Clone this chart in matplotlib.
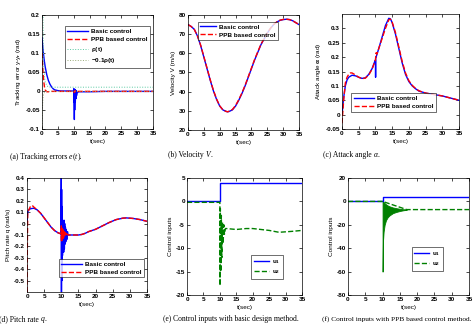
import matplotlib
matplotlib.use("Agg")
import matplotlib.pyplot as plt
import numpy as np

plt.rcParams['font.family'] = ['Liberation Sans Narrow', 'Liberation Sans', 'DejaVu Sans']
plt.rcParams['font.weight'] = 'bold'
plt.rcParams['axes.unicode_minus'] = False
plt.rcParams['mathtext.fontset'] = 'custom'
plt.rcParams['mathtext.rm'] = 'Liberation Sans:bold'
plt.rcParams['mathtext.it'] = 'Liberation Sans:bold'

W, H = 474, 324

# ---------------- data ----------------
# (a) tracking errors
ea_basic_t = [0, 0.25, 0.5, 0.75, 1, 1.5, 2, 2.5, 3, 3.5, 4, 5, 6, 8, 10.0,
              10.05, 10.1, 10.15, 10.2, 10.25, 10.3, 10.4, 10.5, 10.6, 10.7, 10.8, 10.9,
              11.0, 11.2, 11.5, 12, 15, 20, 25, 30, 35]
ea_basic = [0.14, 0.115, 0.095, 0.078, 0.064, 0.043, 0.028, 0.018, 0.011, 0.006, 0.003, 0.001,
            0.0, 0.0, 0.0, 0.006, -0.03, 0.004, -0.075, 0.003, -0.05, 0.004, -0.03, 0.002,
            -0.02, 0.001, -0.012, -0.006, -0.004, -0.002, -0.002, -0.002, -0.001, -0.001,
            -0.001, -0.001]
ea_ppb_t = [0, 0.25, 0.5, 0.75, 1, 1.5, 2, 3, 10, 10.2, 10.4, 10.6, 11, 35]
ea_ppb = [0.1, 0.06, 0.03, 0.012, 0.003, -0.002, -0.002, -0.001, -0.001, -0.004, 0.001,
          -0.003, -0.001, -0.001]
rho_t = [0, 0.1, 0.2, 0.3, 0.4, 0.6, 0.8, 1, 1.5, 2, 3, 35]
rho = [1.0, 0.6, 0.35, 0.2, 0.12, 0.06, 0.035, 0.024, 0.014, 0.011, 0.01, 0.01]
neg_rho = [-0.1, -0.06, -0.035, -0.02, -0.012, -0.006, -0.0035, -0.0024, -0.0014,
           -0.0011, -0.001, -0.001]

# (b) velocity
v_t = [0, 1, 2, 3, 4, 5, 6, 7, 8, 9, 10, 11, 12, 12.5, 13, 14, 15, 16, 17, 18, 19, 20,
       21, 22, 23, 24, 25, 26, 27, 28, 29, 30, 31, 32, 33, 34, 35]
v_basic = [75, 74, 72.5, 69, 64, 58, 52, 46, 40.5, 36, 32.5, 30.5, 29.7, 29.5, 29.7, 30.5,
           32.5, 35.5, 39, 43, 47.5, 52, 56.5, 60.5, 64.5, 67.5, 70.5, 73, 75, 76.3, 77.2,
           77.6, 77.8, 77.6, 77, 76, 75]
v_ppb = [75, 74, 72.4, 69, 64.2, 58.3, 52.3, 46.3, 40.8, 36.2, 32.6, 30.5, 29.7, 29.5, 29.8,
         30.7, 32.8, 35.8, 39.3, 43.3, 47.8, 52.3, 56.8, 60.8, 64.7, 67.7, 70.6, 73.1, 75.1,
         76.4, 77.3, 77.7, 77.8, 77.6, 77, 76, 75]

# (c) attack angle
al_basic_t = [0, 0.5, 1, 1.5, 2, 3, 4, 5, 6, 7, 8, 9, 9.8, 10.0, 10.05, 10.1, 10.2, 11, 12,
              13, 14, 14.5, 15, 16, 17, 18, 19, 20, 21, 22, 23, 25, 30, 35]
al_basic = [0.0, 0.06, 0.1, 0.12, 0.13, 0.137, 0.135, 0.13, 0.126, 0.128, 0.14, 0.16, 0.185,
            0.19, 0.13, 0.2, 0.2, 0.23, 0.27, 0.31, 0.335, 0.333, 0.32, 0.28, 0.23, 0.18,
            0.14, 0.115, 0.1, 0.09, 0.082, 0.075, 0.065, 0.05]
al_ppb_t = [0, 0.25, 0.5, 1, 1.5, 2, 2.5, 3, 4, 5, 6, 7, 8, 9, 10, 10.2, 10.4, 11, 12, 13,
            14, 14.5, 15, 16, 17, 18, 19, 20, 21, 22, 23, 25, 30, 35]
al_ppb = [-0.03, 0.01, 0.05, 0.11, 0.13, 0.14, 0.145, 0.145, 0.138, 0.13, 0.125, 0.127,
          0.138, 0.158, 0.19, 0.215, 0.21, 0.23, 0.265, 0.3, 0.33, 0.332, 0.322, 0.285,
          0.235, 0.185, 0.145, 0.118, 0.102, 0.091, 0.083, 0.075, 0.065, 0.05]

# (d) pitch rate
q_basic_t = [0, 0.2, 0.5, 1, 1.5, 2, 3, 4, 5, 6, 7, 8, 9, 9.9, 10.0, 10.05, 10.1, 10.15,
             10.2, 10.25, 10.3, 10.35, 10.4, 10.5, 10.6, 10.7, 10.8, 10.9, 11.0, 11.1, 11.2,
             11.3, 11.4, 11.6, 11.8, 12, 13, 14, 15, 16, 17, 18, 20, 22, 24, 26, 28, 29, 31,
             33, 35]
q_basic = [0.0, 0.1, 0.12, 0.13, 0.133, 0.135, 0.12, 0.09, 0.05, 0.01, -0.03, -0.06, -0.08,
           -0.09, 0.4, -0.6, 0.3, -0.5, 0.15, -0.35, 0.05, -0.28, -0.02, -0.2, 0.02, -0.25,
           0.03, -0.22, 0.0, -0.18, -0.03, -0.16, -0.05, -0.14, -0.07, -0.1, -0.1, -0.1,
           -0.1, -0.095, -0.085, -0.07, -0.05, -0.02, 0.01, 0.035, 0.048, 0.05, 0.045,
           0.035, 0.02]
q_ppb_t = [0, 0.1, 0.2, 0.5, 1, 1.5, 2, 3, 4, 5, 6, 7, 8, 9, 9.9, 10.0, 10.05, 10.1, 10.15,
           10.2, 10.3, 10.4, 10.5, 10.6, 10.7, 10.8, 11.0, 11.2, 11.4, 11.6, 12, 13, 14, 15,
           16, 17, 18, 20, 22, 24, 26, 28, 29, 31, 33, 35]
q_ppb = [-0.6, -0.2, 0.08, 0.12, 0.15, 0.16, 0.145, 0.12, 0.09, 0.05, 0.01, -0.03, -0.06,
         -0.08, -0.09, -0.02, -0.16, -0.03, -0.15, -0.04, -0.14, -0.05, -0.13, -0.06, -0.12,
         -0.07, -0.11, -0.08, -0.105, -0.09, -0.1, -0.1, -0.1, -0.1, -0.095, -0.085, -0.07,
         -0.05, -0.02, 0.01, 0.035, 0.048, 0.05, 0.045, 0.035, 0.02]

# (e) control inputs, basic design
ue_t1 = [0, 10, 10, 35]
ue_u1 = [0, 0, 4, 4]
ue_t2 = [0, 5, 10.0, 10.05, 10.15, 10.3, 10.45, 10.6, 10.8, 11.0, 11.2, 11.4, 11.7, 12, 15,
         18, 20, 25, 28, 32, 35]
ue_u2 = [-0.2, -0.2, -0.2, -18, -1.5, -15, -3, -12, -4.5, -9, -5, -7, -5.8, -5.8, -6, -5.8,
         -5.8, -6.2, -6.6, -6.4, -6.2]

# (f) control inputs, PPB based control
uf_t1 = [0, 10, 10, 35]
uf_u1 = [0, 0, 4, 4]
uf_t2 = [0, 10, 17, 35]
uf_u2 = [0, 0, -7, -7]
uf_env_t = [10, 10.1, 10.3, 10.6, 11, 11.5, 12, 13, 14, 15, 16, 17]
uf_env_lo = [-60, -35, -26, -20, -16, -13.5, -12, -10, -9, -8.2, -7.6, -7.2]
uf_env_hi = [0, 0, -0.5, -1.5, -2.5, -3.5, -4.2, -5.2, -5.8, -6.3, -6.7, -6.9]

# ---------------- figure ----------------
fig = plt.figure(figsize=(W / 100, H / 100), dpi=100)
FS = 4.6


def make_ax(l, r, t, b):
    ax = fig.add_axes([l / W, 1 - b / H, (r - l) / W, (b - t) / H])
    ax.tick_params(direction='in', length=2, width=0.5, labelsize=FS, pad=1.5,
                   top=True, right=True)
    for s in ax.spines.values():
        s.set_linewidth(0.5)
    ax.set_xlim(0, 35)
    ax.set_xticks(range(0, 36, 5))
    ax.set_xlabel('t(sec)', fontsize=FS, labelpad=2)
    return ax


def leg(ax, hl=3.2, **kw):
    lg = ax.legend(fontsize=FS, frameon=True, fancybox=False, edgecolor='black',
                   borderpad=0.4, labelspacing=0.4, handlelength=hl, handletextpad=0.5,
                   borderaxespad=0.5, **kw)
    lg.get_frame().set_linewidth(0.5)
    return lg


blue = '#0000ff'
red = '#ff0000'
green = '#008000'

# (a)
ax = make_ax(42, 153, 15, 129)
ax.plot(ea_basic_t, ea_basic, color=blue, lw=1.0, label='Basic control')
ax.plot(ea_ppb_t, ea_ppb, color=red, lw=1.0, ls='--', label='PPB based control')
ax.plot(rho_t, rho, color='#55c8a0', lw=0.7, ls=':', label=r'$\rho$(t)')
ax.plot(rho_t, neg_rho, color='#99aa77', lw=0.7, ls=':', label=r'$-0.1\rho$(t)')
ax.set_ylim(-0.1, 0.2)
ax.set_yticks([-0.1, -0.05, 0, 0.05, 0.1, 0.15, 0.2])
ax.set_yticklabels(['-0.1', '-0.05', '0', '0.05', '0.1', '0.15', '0.2'])
ax.set_ylabel(r'Tracking error y-y$_r$ (rad)', fontsize=FS, labelpad=2)
leg(ax, loc='upper right', bbox_to_anchor=(1.0, 0.93))

# (b)
ax = make_ax(188, 299, 15, 130)
ax.plot(v_t, v_basic, color=blue, lw=1.0, label='Basic control')
ax.plot(v_t, v_ppb, color=red, lw=1.0, ls='--', label='PPB based control')
ax.set_ylim(20, 80)
ax.set_yticks(range(20, 81, 10))
ax.set_ylabel('Velocity V (m/s)', fontsize=FS, labelpad=2)
leg(ax, hl=2.4, loc='upper left', bbox_to_anchor=(0.06, 0.97))

# (c)
ax = make_ax(342, 459, 14, 129)
ax.plot(al_basic_t, al_basic, color=blue, lw=1.0, label='Basic control')
ax.plot(al_ppb_t, al_ppb, color=red, lw=1.0, ls='--', label='PPB based control')
ax.set_ylim(-0.05, 0.35)
ax.set_yticks([-0.05, 0, 0.05, 0.1, 0.15, 0.2, 0.25, 0.3])
ax.set_yticklabels(['-0.05', '0', '0.05', '0.1', '0.15', '0.2', '0.25', '0.3'])
ax.set_ylabel(r'Attack angle $\alpha$ (rad)', fontsize=FS, labelpad=2)
leg(ax, loc='lower left', bbox_to_anchor=(0.05, 0.12))

# (d)
ax = make_ax(27, 147, 178, 292)
ax.plot(q_basic_t, q_basic, color=blue, lw=1.0, label='Basic control')
ax.plot(q_ppb_t, q_ppb, color=red, lw=1.0, ls='--', label='PPB based control')
ax.set_ylim(-0.6, 0.4)
ax.set_yticks([-0.5, -0.4, -0.3, -0.2, -0.1, 0, 0.1, 0.2, 0.3, 0.4])
ax.set_yticklabels(['-0.5', '-0.4', '-0.3', '-0.2', '-0.1', '0', '0.1', '0.2', '0.3', '0.4'])
ax.set_ylabel('Pitch rate q (rad/s)', fontsize=FS, labelpad=2)
leg(ax, loc='lower right', bbox_to_anchor=(1.0, 0.1))

# (e)
ax = make_ax(187, 302, 178, 295)
ax.plot(ue_t1, ue_u1, color=blue, lw=1.0, label=r'u$_1$')
ax.plot(ue_t2, ue_u2, color=green, lw=1.0, ls='--', label=r'u$_2$')
ax.set_ylim(-20, 5)
ax.set_yticks(range(-20, 6, 5))
ax.set_ylabel('Control inputs', fontsize=FS, labelpad=2)
leg(ax, hl=2.3, loc='lower right', bbox_to_anchor=(0.86, 0.11))

# (f)
ax = make_ax(348, 469, 178, 295)
ax.plot(uf_t1, uf_u1, color=blue, lw=1.0, label=r'u$_1$')
ax.plot(uf_t2, uf_u2, color=green, lw=1.0, ls='--', label=r'u$_2$')
ax.fill_between(uf_env_t, uf_env_lo, uf_env_hi, color=green, lw=0.6, edgecolor=green)
ax.set_ylim(-80, 20)
ax.set_yticks(range(-80, 21, 20))
ax.set_ylabel('Control inputs', fontsize=FS, labelpad=2)
leg(ax, hl=2.3, loc='lower right', bbox_to_anchor=(0.81, 0.18))

# captions (serif, with italic symbols)
renderer = fig.canvas.get_renderer()


def caption(x, y, parts, size=5.5):
    xp = x
    for s, style in parts:
        t = fig.text(xp / W, 1 - y / H, s, fontsize=size, family='Liberation Serif',
                     weight='normal', style=style, va='center')
        bb = t.get_window_extent(renderer=renderer)
        xp += bb.width


N, I = 'normal', 'italic'
caption(10, 157, [('(a) Tracking errors ', N), ('e', I), ('(', N), ('t', I), (').', N)])
caption(168, 155, [('(b) Velocity ', N), ('V', I), ('.', N)])
caption(323, 155, [('(c) Attack angle ', N), ('\u03b1', I), ('.', N)])
caption(-1, 319, [('(d) Pitch rate ', N), ('q', I), ('.', N)])
caption(163, 319, [('(e) Control inputs with basic design method.', N)])
caption(322, 319, [('(f) Control inputs with PPB based control method.', N)], size=5.3)

fig.savefig('out.png', dpi=100)
